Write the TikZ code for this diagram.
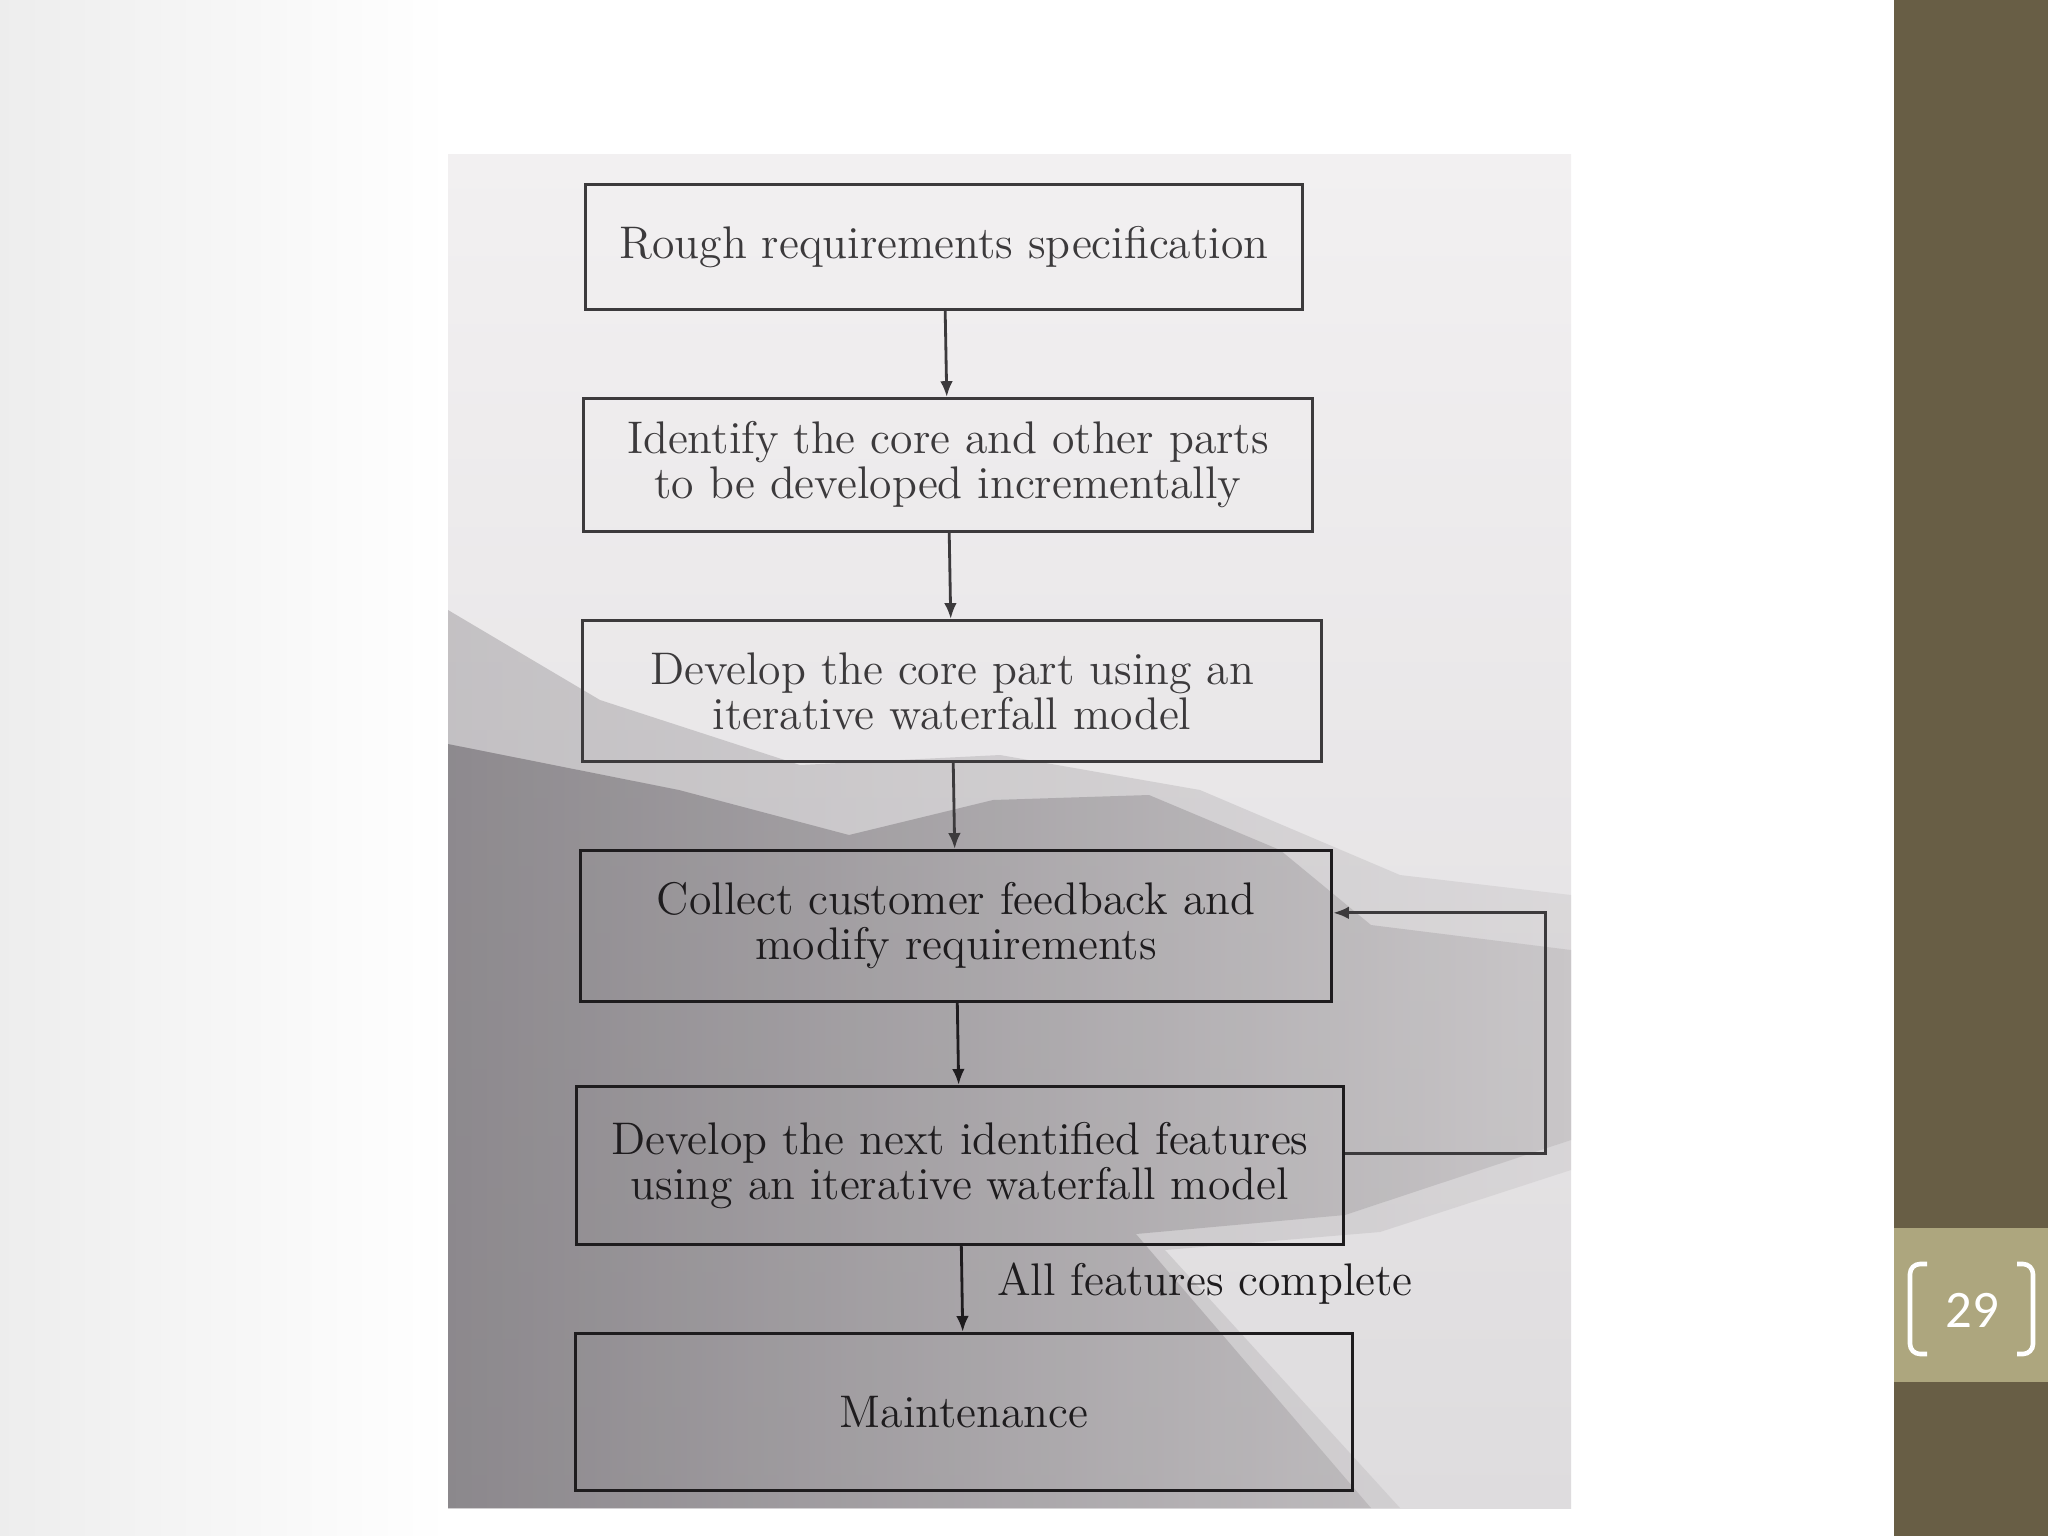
\documentclass[tikz,border=0pt]{standalone}
\usepackage{fontspec}
\usetikzlibrary{positioning, arrows.meta}

\newfontfamily\slidefont{Carlito}

\definecolor{sidebar}{HTML}{685E45}
\definecolor{badge}{HTML}{ADA67E}
\definecolor{ink}{HTML}{3C3A3C}
\definecolor{darkink}{HTML}{1E1C1E}
\definecolor{paper}{HTML}{F2F0F1}
\definecolor{paperlow}{HTML}{DEDCDE}
\definecolor{shadowdark}{HTML}{7C787D}
\definecolor{shadowlight}{HTML}{C4C1C3}

\tikzset{
  box/.style={draw=ink, line width=0.8pt, align=center, inner sep=0pt,
    text=ink, font=\fontsize{13}{12.8}\selectfont},
  shaded box/.style={box, draw=darkink, text=darkink},
  flow/.style={draw=ink, line width=0.8pt, -{Latex[length=4.5pt, width=3.6pt]}}
}

\begin{document}
\begin{tikzpicture}[x=0.01cm, y=-0.01cm, node distance=0.86cm]
            \useasboundingbox (0,0) rectangle (2048,1536);

            % slide
            \fill[white] (0,0) rectangle (2048,1536);
            \shade[left color=black!7, right color=white] (0,0) rectangle (450,1536);
            \fill[sidebar] (1894,0) rectangle (2048,1536);
            \fill[badge] (1894,1228) rectangle (2048,1382);
            \draw[white, line width=1.3pt, rounded corners=0.1cm]
                (1927,1264) -- (1910,1264) -- (1910,1354) -- (1927,1354);
            \draw[white, line width=1.3pt, rounded corners=0.1cm]
                (2017,1264) -- (2033,1264) -- (2033,1354) -- (2017,1354);
            \node [text=white, font=\slidefont\fontsize{15}{15}\selectfont] (page) at (1972,1310) {29};

            % photo of the page, with the soft shadow over it
            \shade[top color=paper, bottom color=paperlow] (448,154) rectangle (1571,1508);
            \shade[left color=shadowdark, right color=shadowlight, opacity=0.35]
                (448,610) -- (600,700) -- (800,765) -- (1000,755) -- (1200,790) -- (1400,875)
                -- (1571,895) -- (1571,1170) -- (1380,1232) -- (1165,1250)
                -- (1400,1508) -- (448,1508) -- cycle;
            \shade[left color=shadowdark, right color=shadowlight, opacity=0.75]
                (448,744) -- (679,790) -- (849,835) -- (993,800) -- (1149,795) -- (1280,850)
                -- (1371,925) -- (1571,950) -- (1571,1140) -- (1345,1215) -- (1136,1234)
                -- (1371,1508) -- (448,1508) -- cycle;

            % flow chart
            \node [box, minimum width=7.16cm, minimum height=1.25cm] (req) at (944,247)
                {Rough requirements specification};
            \node [box, minimum width=7.29cm, minimum height=1.33cm, below=of req, xshift=0.04cm] (parts)
                {Identify the core and other parts\\to be developed incrementally};
            \node [box, minimum width=7.39cm, minimum height=1.41cm, below=of parts, xshift=0.04cm] (core)
                {Develop the core part using an\\iterative waterfall model};
            \node [shaded box, minimum width=7.51cm, minimum height=1.51cm, below=of core, xshift=0.04cm] (collect)
                {Collect customer feedback and\\modify requirements};
            \node [shaded box, minimum width=7.67cm, minimum height=1.58cm, below=0.82cm of collect, xshift=0.04cm] (next)
                {Develop the next identified features\\using an iterative waterfall model};
            \node [shaded box, minimum width=7.77cm, minimum height=1.57cm, below=of next, xshift=0.04cm] (maint)
                {Maintenance};

            \draw[flow] (req) -- (parts);
            \draw[flow] (parts) -- (core);
            \draw[flow] (core) -- (collect);
            \draw[flow, draw=darkink] (collect) -- (next);
            \draw[flow] ([yshift=0.12cm]next.east) -- ++(200,0) |- ([yshift=0.13cm]collect.east);
            \draw[flow, draw=darkink] (next) -- node[right, xshift=0.22cm, yshift=0.05cm, text=darkink,
                font=\fontsize{13}{13}\selectfont]{All features complete} (maint);
        \end{tikzpicture}
\end{document}
